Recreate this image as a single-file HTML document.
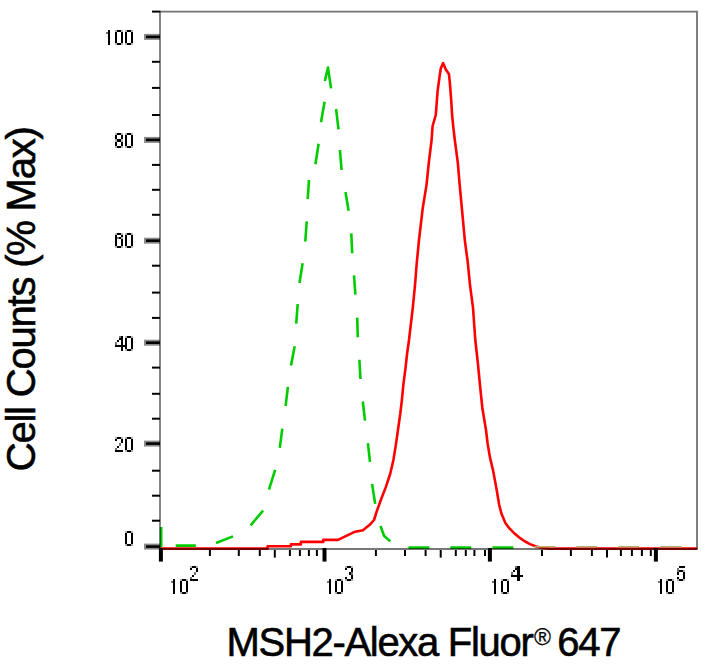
<!DOCTYPE html><html><head><meta charset="utf-8"><style>html,body{margin:0;padding:0;background:#fff;width:716px;height:665px;overflow:hidden;position:relative}</style></head><body><svg width="716" height="665" viewBox="0 0 716 665" style="position:absolute;left:0;top:0">
<rect width="716" height="665" fill="#fff"/>
<path d="M160.0,11.60 H697.0 V549.0" fill="none" stroke="#727272" stroke-width="1.8"/>
<line x1="152" y1="11.60" x2="160" y2="11.60" stroke="#000" stroke-width="2"/>
<line x1="144" y1="36.90" x2="160" y2="36.90" stroke="#8a8a8a" stroke-width="6"/>
<line x1="146" y1="36.90" x2="160" y2="36.90" stroke="#000" stroke-width="2.6"/>
<line x1="152" y1="61.80" x2="160" y2="61.80" stroke="#000" stroke-width="2"/>
<line x1="152" y1="87.90" x2="160" y2="87.90" stroke="#000" stroke-width="2"/>
<line x1="152" y1="115.00" x2="160" y2="115.00" stroke="#000" stroke-width="2"/>
<line x1="144" y1="139.90" x2="160" y2="139.90" stroke="#8a8a8a" stroke-width="6"/>
<line x1="146" y1="139.90" x2="160" y2="139.90" stroke="#000" stroke-width="2.6"/>
<line x1="152" y1="164.90" x2="160" y2="164.90" stroke="#000" stroke-width="2"/>
<line x1="152" y1="189.80" x2="160" y2="189.80" stroke="#000" stroke-width="2"/>
<line x1="152" y1="214.80" x2="160" y2="214.80" stroke="#000" stroke-width="2"/>
<line x1="144" y1="240.70" x2="160" y2="240.70" stroke="#8a8a8a" stroke-width="6"/>
<line x1="146" y1="240.70" x2="160" y2="240.70" stroke="#000" stroke-width="2.6"/>
<line x1="152" y1="265.70" x2="160" y2="265.70" stroke="#000" stroke-width="2"/>
<line x1="152" y1="292.60" x2="160" y2="292.60" stroke="#000" stroke-width="2"/>
<line x1="152" y1="317.90" x2="160" y2="317.90" stroke="#000" stroke-width="2"/>
<line x1="144" y1="342.70" x2="160" y2="342.70" stroke="#8a8a8a" stroke-width="6"/>
<line x1="146" y1="342.70" x2="160" y2="342.70" stroke="#000" stroke-width="2.6"/>
<line x1="152" y1="367.60" x2="160" y2="367.60" stroke="#000" stroke-width="2"/>
<line x1="152" y1="393.80" x2="160" y2="393.80" stroke="#000" stroke-width="2"/>
<line x1="152" y1="418.70" x2="160" y2="418.70" stroke="#000" stroke-width="2"/>
<line x1="144" y1="443.60" x2="160" y2="443.60" stroke="#8a8a8a" stroke-width="6"/>
<line x1="146" y1="443.60" x2="160" y2="443.60" stroke="#000" stroke-width="2.6"/>
<line x1="152" y1="470.70" x2="160" y2="470.70" stroke="#000" stroke-width="2"/>
<line x1="152" y1="495.70" x2="160" y2="495.70" stroke="#000" stroke-width="2"/>
<line x1="152" y1="520.70" x2="160" y2="520.70" stroke="#000" stroke-width="2"/>
<line x1="144" y1="546.60" x2="160" y2="546.60" stroke="#8a8a8a" stroke-width="6"/>
<line x1="146" y1="546.60" x2="160" y2="546.60" stroke="#000" stroke-width="2.6"/>
<path d="M161.2,527 L161.2,547 M175.7,545.6 L195.8,545.6 M216,543 L233,536.4 M250.6,525.3 L263.1,510.7 M269,489.7 L275.1,469.8 M279.8,447.8 L282.3,428.6 M285.6,406 L287.9,386.8 M291,365.4 L294.7,346.2 M296.2,323.7 L297.7,304 M299.5,283 L302.6,263.2 M305.3,241.5 L306.7,221.3 M307.7,199 L309,180 M315.4,164.3 L318.6,143.8 M321,122.2 L324.6,101.7 M324.8,81 L328,67.6 L331.1,88.4 M336.1,109 L338.5,129.4 M339.9,150 L341.6,170 M345.5,192 L348.6,210.8 M351.3,233.4 L352.2,253.2 M354,275.4 L355.4,294.7 M357.2,317.6 L357.8,337.2 M359.4,359.8 L360.5,379 M362.8,401.5 L365,420.7 M367.9,443.1 L370,462 M372.1,484 L375.2,503.9 M380.5,526 L384,535.8 L390.3,541.4 M408.4,547.6 L429.4,547.6 M450.3,547.6 L471.3,547.6 M492.4,547.6 L513.4,547.6" fill="none" stroke="#00cc00" stroke-width="2.6" stroke-linejoin="round"/>
<path d="M160,548.6 L267.6,548.6 L267.6,546.3 L290.9,546.3 L290.9,544.4 L300.9,544.4 L300.9,541.9 L323.3,541.9 L323.3,539.9 L338,539.9 L354.1,532.1 L362.9,530.2 L369.7,524.8 L374,520 L376.7,511.5 L381.3,498.8 L385.8,487.1 L390.3,473.5 L393.4,460 L395.8,445.1 L398,429.8 L400.3,413.5 L401.9,400 L403.5,383.3 L405.3,369.8 L407.1,353.5 L409,340 L412.8,307.7 L415,285.1 L416.8,262.6 L419,240 L422.8,207.7 L426.5,185.1 L428.8,162.6 L431.6,140 L432.6,126 L435.8,115 L437.6,91.1 L439.4,77.6 L440.8,68.5 L443.1,63.1 L445.8,69.4 L448.9,74 L449.8,82.1 L451.2,100.1 L452.1,115 L453.4,128.2 L454.8,140 L457.8,162.6 L459.7,185.1 L461.8,207.7 L464.8,240 L467.8,262.6 L470,285.1 L473,307.7 L475.3,340 L477.8,362.6 L480,385.1 L482.3,407.7 L486,430 L487.6,443.5 L489.9,457.1 L493.1,470.6 L496.7,490 L499.2,505 L501.6,514.1 L505.5,523.2 L509.7,528.7 L513.9,532.9 L518.7,537.1 L524.3,541 L529.9,544.1 L535.5,546.2 L541.8,547.9 L550,548.6 L697,548.6" fill="none" stroke="#ff0000" stroke-width="2.6" stroke-linejoin="round"/>
<path d="M534.3,546.8 H555.3 M576.3,546.8 H597.3 M618.3,546.8 H639.3 M660.3,546.8 H681.3" stroke="#b5b070" stroke-width="1.6" fill="none"/>
<path d="M160.0,10.70 V549.0 M159.1,549.0 H697.9" fill="none" stroke="#000" stroke-opacity="0.53" stroke-width="1.8"/>
<line x1="209.90" y1="550" x2="209.90" y2="556" stroke="#000" stroke-width="2"/>
<line x1="238.80" y1="550" x2="238.80" y2="556" stroke="#000" stroke-width="2"/>
<line x1="259.80" y1="550" x2="259.80" y2="556" stroke="#000" stroke-width="2"/>
<line x1="274.80" y1="550" x2="274.80" y2="557.6" stroke="#000" stroke-width="2"/>
<line x1="289.90" y1="550" x2="289.90" y2="556" stroke="#000" stroke-width="2"/>
<line x1="299.90" y1="550" x2="299.90" y2="556" stroke="#000" stroke-width="2"/>
<line x1="308.90" y1="550" x2="308.90" y2="556" stroke="#000" stroke-width="2"/>
<line x1="316.90" y1="550" x2="316.90" y2="556" stroke="#000" stroke-width="2"/>
<line x1="375.90" y1="550" x2="375.90" y2="556" stroke="#000" stroke-width="2"/>
<line x1="405.00" y1="550" x2="405.00" y2="556" stroke="#000" stroke-width="2"/>
<line x1="425.60" y1="550" x2="425.60" y2="556" stroke="#000" stroke-width="2"/>
<line x1="440.70" y1="550" x2="440.70" y2="557.6" stroke="#000" stroke-width="2"/>
<line x1="455.80" y1="550" x2="455.80" y2="556" stroke="#000" stroke-width="2"/>
<line x1="465.80" y1="550" x2="465.80" y2="556" stroke="#000" stroke-width="2"/>
<line x1="474.40" y1="550" x2="474.40" y2="556" stroke="#000" stroke-width="2"/>
<line x1="485.00" y1="550" x2="485.00" y2="556" stroke="#000" stroke-width="2"/>
<line x1="542.00" y1="550" x2="542.00" y2="556" stroke="#000" stroke-width="2"/>
<line x1="570.90" y1="550" x2="570.90" y2="556" stroke="#000" stroke-width="2"/>
<line x1="591.90" y1="550" x2="591.90" y2="556" stroke="#000" stroke-width="2"/>
<line x1="607.00" y1="550" x2="607.00" y2="557.6" stroke="#000" stroke-width="2"/>
<line x1="620.90" y1="550" x2="620.90" y2="556" stroke="#000" stroke-width="2"/>
<line x1="631.90" y1="550" x2="631.90" y2="556" stroke="#000" stroke-width="2"/>
<line x1="641.90" y1="550" x2="641.90" y2="556" stroke="#000" stroke-width="2"/>
<line x1="650.80" y1="550" x2="650.80" y2="556" stroke="#000" stroke-width="2"/>
<line x1="160.90" y1="548" x2="160.90" y2="561.6" stroke="#000" stroke-width="4"/>
<line x1="324.50" y1="548" x2="324.50" y2="561.6" stroke="#000" stroke-width="4"/>
<line x1="489.90" y1="548" x2="489.90" y2="561.6" stroke="#000" stroke-width="4"/>
<line x1="655.90" y1="548" x2="655.90" y2="561.6" stroke="#000" stroke-width="4"/>
<defs><filter id="bl" x="-10%" y="-10%" width="120%" height="120%"><feGaussianBlur stdDeviation="0.4"/></filter></defs>
<g fill="#000" filter="url(#bl)" shape-rendering="crispEdges"><rect x="108" y="30.00" width="2" height="2.14"/><rect x="106" y="32.14" width="2" height="2.14" fill-opacity="0.55"/><rect x="108" y="32.14" width="2" height="2.14"/><rect x="108" y="34.29" width="2" height="2.14"/><rect x="108" y="36.43" width="2" height="2.14"/><rect x="108" y="38.57" width="2" height="2.14"/><rect x="108" y="40.71" width="2" height="2.14"/><rect x="108" y="42.86" width="2" height="2.14"/><rect x="115" y="30.00" width="2" height="2.14" fill-opacity="0.3"/><rect x="117" y="30.00" width="2" height="2.14"/><rect x="119" y="30.00" width="2" height="2.14"/><rect x="121" y="30.00" width="2" height="2.14" fill-opacity="0.3"/><rect x="115" y="32.14" width="2" height="2.14"/><rect x="121" y="32.14" width="2" height="2.14"/><rect x="115" y="34.29" width="2" height="2.14"/><rect x="121" y="34.29" width="2" height="2.14"/><rect x="115" y="36.43" width="2" height="2.14"/><rect x="121" y="36.43" width="2" height="2.14"/><rect x="115" y="38.57" width="2" height="2.14"/><rect x="121" y="38.57" width="2" height="2.14"/><rect x="115" y="40.71" width="2" height="2.14"/><rect x="121" y="40.71" width="2" height="2.14"/><rect x="115" y="42.86" width="2" height="2.14" fill-opacity="0.3"/><rect x="117" y="42.86" width="2" height="2.14"/><rect x="119" y="42.86" width="2" height="2.14"/><rect x="121" y="42.86" width="2" height="2.14" fill-opacity="0.3"/><rect x="125" y="30.00" width="2" height="2.14" fill-opacity="0.3"/><rect x="127" y="30.00" width="2" height="2.14"/><rect x="129" y="30.00" width="2" height="2.14"/><rect x="131" y="30.00" width="2" height="2.14" fill-opacity="0.3"/><rect x="125" y="32.14" width="2" height="2.14"/><rect x="131" y="32.14" width="2" height="2.14"/><rect x="125" y="34.29" width="2" height="2.14"/><rect x="131" y="34.29" width="2" height="2.14"/><rect x="125" y="36.43" width="2" height="2.14"/><rect x="131" y="36.43" width="2" height="2.14"/><rect x="125" y="38.57" width="2" height="2.14"/><rect x="131" y="38.57" width="2" height="2.14"/><rect x="125" y="40.71" width="2" height="2.14"/><rect x="131" y="40.71" width="2" height="2.14"/><rect x="125" y="42.86" width="2" height="2.14" fill-opacity="0.3"/><rect x="127" y="42.86" width="2" height="2.14"/><rect x="129" y="42.86" width="2" height="2.14"/><rect x="131" y="42.86" width="2" height="2.14" fill-opacity="0.3"/><rect x="115" y="133.00" width="2" height="2.14" fill-opacity="0.3"/><rect x="117" y="133.00" width="2" height="2.14"/><rect x="119" y="133.00" width="2" height="2.14"/><rect x="121" y="133.00" width="2" height="2.14" fill-opacity="0.3"/><rect x="115" y="135.14" width="2" height="2.14"/><rect x="121" y="135.14" width="2" height="2.14"/><rect x="115" y="137.29" width="2" height="2.14"/><rect x="121" y="137.29" width="2" height="2.14"/><rect x="115" y="139.43" width="2" height="2.14" fill-opacity="0.3"/><rect x="117" y="139.43" width="2" height="2.14"/><rect x="119" y="139.43" width="2" height="2.14"/><rect x="121" y="139.43" width="2" height="2.14" fill-opacity="0.3"/><rect x="115" y="141.57" width="2" height="2.14"/><rect x="121" y="141.57" width="2" height="2.14"/><rect x="115" y="143.71" width="2" height="2.14"/><rect x="121" y="143.71" width="2" height="2.14"/><rect x="115" y="145.86" width="2" height="2.14" fill-opacity="0.3"/><rect x="117" y="145.86" width="2" height="2.14"/><rect x="119" y="145.86" width="2" height="2.14"/><rect x="121" y="145.86" width="2" height="2.14" fill-opacity="0.3"/><rect x="125" y="133.00" width="2" height="2.14" fill-opacity="0.3"/><rect x="127" y="133.00" width="2" height="2.14"/><rect x="129" y="133.00" width="2" height="2.14"/><rect x="131" y="133.00" width="2" height="2.14" fill-opacity="0.3"/><rect x="125" y="135.14" width="2" height="2.14"/><rect x="131" y="135.14" width="2" height="2.14"/><rect x="125" y="137.29" width="2" height="2.14"/><rect x="131" y="137.29" width="2" height="2.14"/><rect x="125" y="139.43" width="2" height="2.14"/><rect x="131" y="139.43" width="2" height="2.14"/><rect x="125" y="141.57" width="2" height="2.14"/><rect x="131" y="141.57" width="2" height="2.14"/><rect x="125" y="143.71" width="2" height="2.14"/><rect x="131" y="143.71" width="2" height="2.14"/><rect x="125" y="145.86" width="2" height="2.14" fill-opacity="0.3"/><rect x="127" y="145.86" width="2" height="2.14"/><rect x="129" y="145.86" width="2" height="2.14"/><rect x="131" y="145.86" width="2" height="2.14" fill-opacity="0.3"/><rect x="115" y="233.00" width="2" height="2.14" fill-opacity="0.3"/><rect x="117" y="233.00" width="2" height="2.14"/><rect x="119" y="233.00" width="2" height="2.14"/><rect x="121" y="233.00" width="2" height="2.14" fill-opacity="0.3"/><rect x="115" y="235.14" width="2" height="2.14"/><rect x="121" y="235.14" width="2" height="2.14"/><rect x="115" y="237.29" width="2" height="2.14"/><rect x="117" y="237.29" width="2" height="2.14" fill-opacity="0.55"/><rect x="119" y="237.29" width="2" height="2.14"/><rect x="121" y="237.29" width="2" height="2.14" fill-opacity="0.3"/><rect x="115" y="239.43" width="2" height="2.14"/><rect x="121" y="239.43" width="2" height="2.14"/><rect x="115" y="241.57" width="2" height="2.14"/><rect x="121" y="241.57" width="2" height="2.14"/><rect x="115" y="243.71" width="2" height="2.14"/><rect x="121" y="243.71" width="2" height="2.14"/><rect x="115" y="245.86" width="2" height="2.14" fill-opacity="0.3"/><rect x="117" y="245.86" width="2" height="2.14"/><rect x="119" y="245.86" width="2" height="2.14"/><rect x="121" y="245.86" width="2" height="2.14" fill-opacity="0.3"/><rect x="125" y="233.00" width="2" height="2.14" fill-opacity="0.3"/><rect x="127" y="233.00" width="2" height="2.14"/><rect x="129" y="233.00" width="2" height="2.14"/><rect x="131" y="233.00" width="2" height="2.14" fill-opacity="0.3"/><rect x="125" y="235.14" width="2" height="2.14"/><rect x="131" y="235.14" width="2" height="2.14"/><rect x="125" y="237.29" width="2" height="2.14"/><rect x="131" y="237.29" width="2" height="2.14"/><rect x="125" y="239.43" width="2" height="2.14"/><rect x="131" y="239.43" width="2" height="2.14"/><rect x="125" y="241.57" width="2" height="2.14"/><rect x="131" y="241.57" width="2" height="2.14"/><rect x="125" y="243.71" width="2" height="2.14"/><rect x="131" y="243.71" width="2" height="2.14"/><rect x="125" y="245.86" width="2" height="2.14" fill-opacity="0.3"/><rect x="127" y="245.86" width="2" height="2.14"/><rect x="129" y="245.86" width="2" height="2.14"/><rect x="131" y="245.86" width="2" height="2.14" fill-opacity="0.3"/><rect x="119" y="336.00" width="2" height="2.14" fill-opacity="0.55"/><rect x="121" y="336.00" width="2" height="2.14"/><rect x="119" y="338.14" width="2" height="2.14"/><rect x="121" y="338.14" width="2" height="2.14"/><rect x="117" y="340.29" width="2" height="2.14"/><rect x="121" y="340.29" width="2" height="2.14"/><rect x="115" y="342.43" width="2" height="2.14" fill-opacity="0.55"/><rect x="121" y="342.43" width="2" height="2.14"/><rect x="115" y="344.57" width="2" height="2.14"/><rect x="117" y="344.57" width="2" height="2.14"/><rect x="119" y="344.57" width="2" height="2.14"/><rect x="121" y="344.57" width="2" height="2.14"/><rect x="123" y="344.57" width="2" height="2.14"/><rect x="121" y="346.71" width="2" height="2.14"/><rect x="121" y="348.86" width="2" height="2.14"/><rect x="125" y="336.00" width="2" height="2.14" fill-opacity="0.3"/><rect x="127" y="336.00" width="2" height="2.14"/><rect x="129" y="336.00" width="2" height="2.14"/><rect x="131" y="336.00" width="2" height="2.14" fill-opacity="0.3"/><rect x="125" y="338.14" width="2" height="2.14"/><rect x="131" y="338.14" width="2" height="2.14"/><rect x="125" y="340.29" width="2" height="2.14"/><rect x="131" y="340.29" width="2" height="2.14"/><rect x="125" y="342.43" width="2" height="2.14"/><rect x="131" y="342.43" width="2" height="2.14"/><rect x="125" y="344.57" width="2" height="2.14"/><rect x="131" y="344.57" width="2" height="2.14"/><rect x="125" y="346.71" width="2" height="2.14"/><rect x="131" y="346.71" width="2" height="2.14"/><rect x="125" y="348.86" width="2" height="2.14" fill-opacity="0.3"/><rect x="127" y="348.86" width="2" height="2.14"/><rect x="129" y="348.86" width="2" height="2.14"/><rect x="131" y="348.86" width="2" height="2.14" fill-opacity="0.3"/><rect x="115" y="437.00" width="2" height="2.14" fill-opacity="0.3"/><rect x="117" y="437.00" width="2" height="2.14"/><rect x="119" y="437.00" width="2" height="2.14"/><rect x="121" y="437.00" width="2" height="2.14" fill-opacity="0.3"/><rect x="115" y="439.14" width="2" height="2.14"/><rect x="121" y="439.14" width="2" height="2.14"/><rect x="121" y="441.29" width="2" height="2.14"/><rect x="119" y="443.43" width="2" height="2.14" fill-opacity="0.55"/><rect x="117" y="445.57" width="2" height="2.14"/><rect x="115" y="447.71" width="2" height="2.14" fill-opacity="0.55"/><rect x="115" y="449.86" width="2" height="2.14"/><rect x="117" y="449.86" width="2" height="2.14"/><rect x="119" y="449.86" width="2" height="2.14"/><rect x="121" y="449.86" width="2" height="2.14"/><rect x="125" y="437.00" width="2" height="2.14" fill-opacity="0.3"/><rect x="127" y="437.00" width="2" height="2.14"/><rect x="129" y="437.00" width="2" height="2.14"/><rect x="131" y="437.00" width="2" height="2.14" fill-opacity="0.3"/><rect x="125" y="439.14" width="2" height="2.14"/><rect x="131" y="439.14" width="2" height="2.14"/><rect x="125" y="441.29" width="2" height="2.14"/><rect x="131" y="441.29" width="2" height="2.14"/><rect x="125" y="443.43" width="2" height="2.14"/><rect x="131" y="443.43" width="2" height="2.14"/><rect x="125" y="445.57" width="2" height="2.14"/><rect x="131" y="445.57" width="2" height="2.14"/><rect x="125" y="447.71" width="2" height="2.14"/><rect x="131" y="447.71" width="2" height="2.14"/><rect x="125" y="449.86" width="2" height="2.14" fill-opacity="0.3"/><rect x="127" y="449.86" width="2" height="2.14"/><rect x="129" y="449.86" width="2" height="2.14"/><rect x="131" y="449.86" width="2" height="2.14" fill-opacity="0.3"/><rect x="125" y="531.00" width="2" height="2.14" fill-opacity="0.3"/><rect x="127" y="531.00" width="2" height="2.14"/><rect x="129" y="531.00" width="2" height="2.14"/><rect x="131" y="531.00" width="2" height="2.14" fill-opacity="0.3"/><rect x="125" y="533.14" width="2" height="2.14"/><rect x="131" y="533.14" width="2" height="2.14"/><rect x="125" y="535.29" width="2" height="2.14"/><rect x="131" y="535.29" width="2" height="2.14"/><rect x="125" y="537.43" width="2" height="2.14"/><rect x="131" y="537.43" width="2" height="2.14"/><rect x="125" y="539.57" width="2" height="2.14"/><rect x="131" y="539.57" width="2" height="2.14"/><rect x="125" y="541.71" width="2" height="2.14"/><rect x="131" y="541.71" width="2" height="2.14"/><rect x="125" y="543.86" width="2" height="2.14" fill-opacity="0.3"/><rect x="127" y="543.86" width="2" height="2.14"/><rect x="129" y="543.86" width="2" height="2.14"/><rect x="131" y="543.86" width="2" height="2.14" fill-opacity="0.3"/><rect x="173" y="579.00" width="2" height="2.14"/><rect x="171" y="581.14" width="2" height="2.14" fill-opacity="0.55"/><rect x="173" y="581.14" width="2" height="2.14"/><rect x="173" y="583.29" width="2" height="2.14"/><rect x="173" y="585.43" width="2" height="2.14"/><rect x="173" y="587.57" width="2" height="2.14"/><rect x="173" y="589.71" width="2" height="2.14"/><rect x="173" y="591.86" width="2" height="2.14"/><rect x="180" y="579.00" width="2" height="2.14" fill-opacity="0.3"/><rect x="182" y="579.00" width="2" height="2.14"/><rect x="184" y="579.00" width="2" height="2.14"/><rect x="186" y="579.00" width="2" height="2.14" fill-opacity="0.3"/><rect x="180" y="581.14" width="2" height="2.14"/><rect x="186" y="581.14" width="2" height="2.14"/><rect x="180" y="583.29" width="2" height="2.14"/><rect x="186" y="583.29" width="2" height="2.14"/><rect x="180" y="585.43" width="2" height="2.14"/><rect x="186" y="585.43" width="2" height="2.14"/><rect x="180" y="587.57" width="2" height="2.14"/><rect x="186" y="587.57" width="2" height="2.14"/><rect x="180" y="589.71" width="2" height="2.14"/><rect x="186" y="589.71" width="2" height="2.14"/><rect x="180" y="591.86" width="2" height="2.14" fill-opacity="0.3"/><rect x="182" y="591.86" width="2" height="2.14"/><rect x="184" y="591.86" width="2" height="2.14"/><rect x="186" y="591.86" width="2" height="2.14" fill-opacity="0.3"/><rect x="190" y="566.00" width="2" height="2.14" fill-opacity="0.3"/><rect x="192" y="566.00" width="2" height="2.14"/><rect x="194" y="566.00" width="2" height="2.14"/><rect x="196" y="566.00" width="2" height="2.14" fill-opacity="0.3"/><rect x="190" y="568.14" width="2" height="2.14"/><rect x="196" y="568.14" width="2" height="2.14"/><rect x="196" y="570.29" width="2" height="2.14"/><rect x="194" y="572.43" width="2" height="2.14" fill-opacity="0.55"/><rect x="192" y="574.57" width="2" height="2.14"/><rect x="190" y="576.71" width="2" height="2.14" fill-opacity="0.55"/><rect x="190" y="578.86" width="2" height="2.14"/><rect x="192" y="578.86" width="2" height="2.14"/><rect x="194" y="578.86" width="2" height="2.14"/><rect x="196" y="578.86" width="2" height="2.14"/><rect x="329" y="579.00" width="2" height="2.14"/><rect x="327" y="581.14" width="2" height="2.14" fill-opacity="0.55"/><rect x="329" y="581.14" width="2" height="2.14"/><rect x="329" y="583.29" width="2" height="2.14"/><rect x="329" y="585.43" width="2" height="2.14"/><rect x="329" y="587.57" width="2" height="2.14"/><rect x="329" y="589.71" width="2" height="2.14"/><rect x="329" y="591.86" width="2" height="2.14"/><rect x="335" y="579.00" width="2" height="2.14" fill-opacity="0.3"/><rect x="337" y="579.00" width="2" height="2.14"/><rect x="339" y="579.00" width="2" height="2.14"/><rect x="341" y="579.00" width="2" height="2.14" fill-opacity="0.3"/><rect x="335" y="581.14" width="2" height="2.14"/><rect x="341" y="581.14" width="2" height="2.14"/><rect x="335" y="583.29" width="2" height="2.14"/><rect x="341" y="583.29" width="2" height="2.14"/><rect x="335" y="585.43" width="2" height="2.14"/><rect x="341" y="585.43" width="2" height="2.14"/><rect x="335" y="587.57" width="2" height="2.14"/><rect x="341" y="587.57" width="2" height="2.14"/><rect x="335" y="589.71" width="2" height="2.14"/><rect x="341" y="589.71" width="2" height="2.14"/><rect x="335" y="591.86" width="2" height="2.14" fill-opacity="0.3"/><rect x="337" y="591.86" width="2" height="2.14"/><rect x="339" y="591.86" width="2" height="2.14"/><rect x="341" y="591.86" width="2" height="2.14" fill-opacity="0.3"/><rect x="345" y="566.00" width="2" height="2.14" fill-opacity="0.3"/><rect x="347" y="566.00" width="2" height="2.14"/><rect x="349" y="566.00" width="2" height="2.14"/><rect x="351" y="566.00" width="2" height="2.14" fill-opacity="0.3"/><rect x="345" y="568.14" width="2" height="2.14"/><rect x="351" y="568.14" width="2" height="2.14"/><rect x="351" y="570.29" width="2" height="2.14"/><rect x="349" y="572.43" width="2" height="2.14"/><rect x="351" y="572.43" width="2" height="2.14" fill-opacity="0.55"/><rect x="351" y="574.57" width="2" height="2.14"/><rect x="345" y="576.71" width="2" height="2.14"/><rect x="351" y="576.71" width="2" height="2.14"/><rect x="345" y="578.86" width="2" height="2.14" fill-opacity="0.3"/><rect x="347" y="578.86" width="2" height="2.14"/><rect x="349" y="578.86" width="2" height="2.14"/><rect x="351" y="578.86" width="2" height="2.14" fill-opacity="0.3"/><rect x="494" y="579.00" width="2" height="2.14"/><rect x="492" y="581.14" width="2" height="2.14" fill-opacity="0.55"/><rect x="494" y="581.14" width="2" height="2.14"/><rect x="494" y="583.29" width="2" height="2.14"/><rect x="494" y="585.43" width="2" height="2.14"/><rect x="494" y="587.57" width="2" height="2.14"/><rect x="494" y="589.71" width="2" height="2.14"/><rect x="494" y="591.86" width="2" height="2.14"/><rect x="501" y="579.00" width="2" height="2.14" fill-opacity="0.3"/><rect x="503" y="579.00" width="2" height="2.14"/><rect x="505" y="579.00" width="2" height="2.14"/><rect x="507" y="579.00" width="2" height="2.14" fill-opacity="0.3"/><rect x="501" y="581.14" width="2" height="2.14"/><rect x="507" y="581.14" width="2" height="2.14"/><rect x="501" y="583.29" width="2" height="2.14"/><rect x="507" y="583.29" width="2" height="2.14"/><rect x="501" y="585.43" width="2" height="2.14"/><rect x="507" y="585.43" width="2" height="2.14"/><rect x="501" y="587.57" width="2" height="2.14"/><rect x="507" y="587.57" width="2" height="2.14"/><rect x="501" y="589.71" width="2" height="2.14"/><rect x="507" y="589.71" width="2" height="2.14"/><rect x="501" y="591.86" width="2" height="2.14" fill-opacity="0.3"/><rect x="503" y="591.86" width="2" height="2.14"/><rect x="505" y="591.86" width="2" height="2.14"/><rect x="507" y="591.86" width="2" height="2.14" fill-opacity="0.3"/><rect x="515" y="566.00" width="2" height="2.14" fill-opacity="0.55"/><rect x="517" y="566.00" width="2" height="2.14"/><rect x="515" y="568.14" width="2" height="2.14"/><rect x="517" y="568.14" width="2" height="2.14"/><rect x="513" y="570.29" width="2" height="2.14"/><rect x="517" y="570.29" width="2" height="2.14"/><rect x="511" y="572.43" width="2" height="2.14" fill-opacity="0.55"/><rect x="517" y="572.43" width="2" height="2.14"/><rect x="511" y="574.57" width="2" height="2.14"/><rect x="513" y="574.57" width="2" height="2.14"/><rect x="515" y="574.57" width="2" height="2.14"/><rect x="517" y="574.57" width="2" height="2.14"/><rect x="519" y="574.57" width="2" height="2.14"/><rect x="517" y="576.71" width="2" height="2.14"/><rect x="517" y="578.86" width="2" height="2.14"/><rect x="519" y="566" width="1" height="15"/><rect x="521" y="574.57" width="1.5" height="2.14"/><rect x="660" y="579.00" width="2" height="2.14"/><rect x="658" y="581.14" width="2" height="2.14" fill-opacity="0.55"/><rect x="660" y="581.14" width="2" height="2.14"/><rect x="660" y="583.29" width="2" height="2.14"/><rect x="660" y="585.43" width="2" height="2.14"/><rect x="660" y="587.57" width="2" height="2.14"/><rect x="660" y="589.71" width="2" height="2.14"/><rect x="660" y="591.86" width="2" height="2.14"/><rect x="666" y="579.00" width="2" height="2.14" fill-opacity="0.3"/><rect x="668" y="579.00" width="2" height="2.14"/><rect x="670" y="579.00" width="2" height="2.14"/><rect x="672" y="579.00" width="2" height="2.14" fill-opacity="0.3"/><rect x="666" y="581.14" width="2" height="2.14"/><rect x="672" y="581.14" width="2" height="2.14"/><rect x="666" y="583.29" width="2" height="2.14"/><rect x="672" y="583.29" width="2" height="2.14"/><rect x="666" y="585.43" width="2" height="2.14"/><rect x="672" y="585.43" width="2" height="2.14"/><rect x="666" y="587.57" width="2" height="2.14"/><rect x="672" y="587.57" width="2" height="2.14"/><rect x="666" y="589.71" width="2" height="2.14"/><rect x="672" y="589.71" width="2" height="2.14"/><rect x="666" y="591.86" width="2" height="2.14" fill-opacity="0.3"/><rect x="668" y="591.86" width="2" height="2.14"/><rect x="670" y="591.86" width="2" height="2.14"/><rect x="672" y="591.86" width="2" height="2.14" fill-opacity="0.3"/><rect x="679" y="566.00" width="2" height="2.14"/><rect x="681" y="566.00" width="2" height="2.14"/><rect x="683" y="566.00" width="2" height="2.14"/><rect x="677" y="568.14" width="2" height="2.14" fill-opacity="0.55"/><rect x="677" y="570.29" width="2" height="2.14" fill-opacity="0.55"/><rect x="679" y="570.29" width="2" height="2.14"/><rect x="681" y="570.29" width="2" height="2.14"/><rect x="683" y="570.29" width="2" height="2.14" fill-opacity="0.3"/><rect x="677" y="572.43" width="2" height="2.14"/><rect x="683" y="572.43" width="2" height="2.14"/><rect x="683" y="574.57" width="2" height="2.14"/><rect x="677" y="576.71" width="2" height="2.14"/><rect x="683" y="576.71" width="2" height="2.14"/><rect x="677" y="578.86" width="2" height="2.14" fill-opacity="0.3"/><rect x="679" y="578.86" width="2" height="2.14"/><rect x="681" y="578.86" width="2" height="2.14"/><rect x="683" y="578.86" width="2" height="2.14" fill-opacity="0.3"/></g>
<text x="226.5" y="656" font-family="Liberation Sans, sans-serif" font-size="40" letter-spacing="-1.3" fill="#000" stroke="#000" stroke-width="0.6">MSH2-Alexa Fluor<tspan font-size="23" dy="-11" dx="1.5" stroke-width="0.2">®</tspan><tspan dy="11" dx="-2.2" stroke-width="0.6"> 647</tspan></text>
<text transform="translate(34.5,471.3) rotate(-90)" x="0" y="0" font-family="Liberation Sans, sans-serif" font-size="40" letter-spacing="-1.2" fill="#000" stroke="#000" stroke-width="0.6">Cell Counts (% Max)</text>
</svg></body></html>
